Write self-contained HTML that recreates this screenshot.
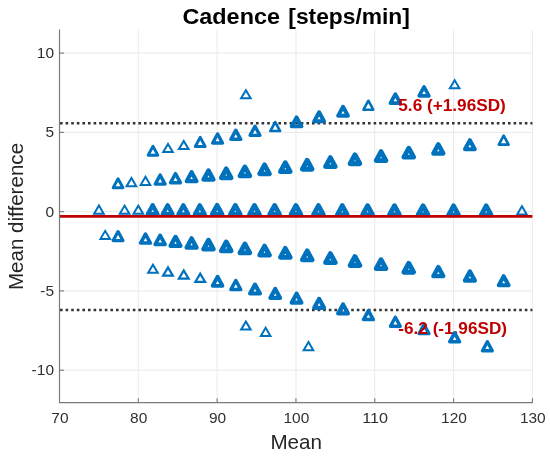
<!DOCTYPE html><html><head><meta charset="utf-8"><title>Cadence</title><style>html,body{margin:0;padding:0;background:#fff}svg{display:block}text{font-family:"Liberation Sans",sans-serif}</style></head><body>
<svg width="550" height="456" viewBox="0 0 550 456">
<rect width="550" height="456" fill="#fff"/>
<line x1="138.32" x2="138.32" y1="29.60" y2="402.70" stroke="#e6e6e6" stroke-width="0.9"/>
<line x1="217.13" x2="217.13" y1="29.60" y2="402.70" stroke="#e6e6e6" stroke-width="0.9"/>
<line x1="295.95" x2="295.95" y1="29.60" y2="402.70" stroke="#e6e6e6" stroke-width="0.9"/>
<line x1="374.77" x2="374.77" y1="29.60" y2="402.70" stroke="#e6e6e6" stroke-width="0.9"/>
<line x1="453.58" x2="453.58" y1="29.60" y2="402.70" stroke="#e6e6e6" stroke-width="0.9"/>
<line x1="532.40" x2="532.40" y1="29.60" y2="402.70" stroke="#e6e6e6" stroke-width="0.9"/>
<line x1="59.50" x2="532.40" y1="370.20" y2="370.20" stroke="#e6e6e6" stroke-width="0.9"/>
<line x1="59.50" x2="532.40" y1="290.92" y2="290.92" stroke="#e6e6e6" stroke-width="0.9"/>
<line x1="59.50" x2="532.40" y1="211.65" y2="211.65" stroke="#e6e6e6" stroke-width="0.9"/>
<line x1="59.50" x2="532.40" y1="132.38" y2="132.38" stroke="#e6e6e6" stroke-width="0.9"/>
<line x1="59.50" x2="532.40" y1="53.10" y2="53.10" stroke="#e6e6e6" stroke-width="0.9"/>
<line x1="60.00" x2="532.40" y1="123.26" y2="123.26" stroke="#333333" stroke-width="2.6" stroke-dasharray="2.6 3.0"/>
<line x1="60.00" x2="532.40" y1="309.95" y2="309.95" stroke="#333333" stroke-width="2.6" stroke-dasharray="2.6 3.0"/>
<path d="M517.14 214.43L521.94 206.33L526.74 214.43Z" fill="none" stroke="#0072BD" stroke-width="2.00" stroke-linejoin="miter"/>
<path d="M481.30 214.87L486.20 205.87L491.10 214.87Z" fill="none" stroke="#0072BD" stroke-width="4.79" stroke-linejoin="round"/>
<path d="M448.68 214.81L453.58 205.81L458.48 214.81Z" fill="none" stroke="#0072BD" stroke-width="4.79" stroke-linejoin="round"/>
<path d="M418.17 214.75L423.07 205.75L427.97 214.75Z" fill="none" stroke="#0072BD" stroke-width="4.79" stroke-linejoin="round"/>
<path d="M389.57 214.70L394.47 205.70L399.37 214.70Z" fill="none" stroke="#0072BD" stroke-width="4.79" stroke-linejoin="round"/>
<path d="M362.70 214.65L367.60 205.65L372.50 214.65Z" fill="none" stroke="#0072BD" stroke-width="4.79" stroke-linejoin="round"/>
<path d="M337.41 214.60L342.31 205.60L347.21 214.60Z" fill="none" stroke="#0072BD" stroke-width="4.79" stroke-linejoin="round"/>
<path d="M313.57 214.56L318.47 205.56L323.37 214.56Z" fill="none" stroke="#0072BD" stroke-width="4.79" stroke-linejoin="round"/>
<path d="M291.05 214.51L295.95 205.51L300.85 214.51Z" fill="none" stroke="#0072BD" stroke-width="4.79" stroke-linejoin="round"/>
<path d="M269.75 214.47L274.65 205.47L279.55 214.47Z" fill="none" stroke="#0072BD" stroke-width="4.79" stroke-linejoin="round"/>
<path d="M249.57 214.44L254.47 205.44L259.37 214.44Z" fill="none" stroke="#0072BD" stroke-width="4.79" stroke-linejoin="round"/>
<path d="M230.42 214.40L235.32 205.40L240.22 214.40Z" fill="none" stroke="#0072BD" stroke-width="4.79" stroke-linejoin="round"/>
<path d="M212.23 214.37L217.13 205.37L222.03 214.37Z" fill="none" stroke="#0072BD" stroke-width="4.79" stroke-linejoin="round"/>
<path d="M194.93 214.34L199.83 205.34L204.73 214.34Z" fill="none" stroke="#0072BD" stroke-width="4.33" stroke-linejoin="round"/>
<path d="M178.45 214.31L183.35 205.31L188.25 214.31Z" fill="none" stroke="#0072BD" stroke-width="4.33" stroke-linejoin="round"/>
<path d="M162.74 214.28L167.64 205.28L172.54 214.28Z" fill="none" stroke="#0072BD" stroke-width="4.33" stroke-linejoin="round"/>
<path d="M147.75 214.25L152.65 205.25L157.55 214.25Z" fill="none" stroke="#0072BD" stroke-width="4.33" stroke-linejoin="round"/>
<path d="M133.52 213.72L138.32 205.62L143.12 213.72Z" fill="none" stroke="#0072BD" stroke-width="2.00" stroke-linejoin="miter"/>
<path d="M119.81 213.70L124.61 205.60L129.41 213.70Z" fill="none" stroke="#0072BD" stroke-width="2.00" stroke-linejoin="miter"/>
<path d="M94.11 213.65L98.91 205.55L103.71 213.65Z" fill="none" stroke="#0072BD" stroke-width="2.00" stroke-linejoin="miter"/>
<path d="M498.77 144.61L503.67 135.61L508.57 144.61Z" fill="none" stroke="#0072BD" stroke-width="2.65" stroke-linejoin="round"/>
<path d="M464.99 149.23L469.89 140.23L474.79 149.23Z" fill="none" stroke="#0072BD" stroke-width="4.05" stroke-linejoin="round"/>
<path d="M433.43 153.41L438.33 144.41L443.23 153.41Z" fill="none" stroke="#0072BD" stroke-width="4.51" stroke-linejoin="round"/>
<path d="M403.87 157.19L408.77 148.19L413.67 157.19Z" fill="none" stroke="#0072BD" stroke-width="4.79" stroke-linejoin="round"/>
<path d="M376.14 160.62L381.04 151.62L385.94 160.62Z" fill="none" stroke="#0072BD" stroke-width="4.79" stroke-linejoin="round"/>
<path d="M350.06 163.75L354.96 154.75L359.86 163.75Z" fill="none" stroke="#0072BD" stroke-width="4.79" stroke-linejoin="round"/>
<path d="M325.49 166.61L330.39 157.61L335.29 166.61Z" fill="none" stroke="#0072BD" stroke-width="4.79" stroke-linejoin="round"/>
<path d="M302.31 169.24L307.21 160.24L312.11 169.24Z" fill="none" stroke="#0072BD" stroke-width="4.79" stroke-linejoin="round"/>
<path d="M280.40 171.64L285.30 162.64L290.20 171.64Z" fill="none" stroke="#0072BD" stroke-width="4.79" stroke-linejoin="round"/>
<path d="M259.66 173.86L264.56 164.86L269.46 173.86Z" fill="none" stroke="#0072BD" stroke-width="4.79" stroke-linejoin="round"/>
<path d="M239.99 175.91L244.89 166.91L249.79 175.91Z" fill="none" stroke="#0072BD" stroke-width="4.79" stroke-linejoin="round"/>
<path d="M221.33 177.80L226.23 168.80L231.13 177.80Z" fill="none" stroke="#0072BD" stroke-width="4.79" stroke-linejoin="round"/>
<path d="M203.58 179.55L208.48 170.55L213.38 179.55Z" fill="none" stroke="#0072BD" stroke-width="4.51" stroke-linejoin="round"/>
<path d="M186.69 181.17L191.59 172.17L196.49 181.17Z" fill="none" stroke="#0072BD" stroke-width="4.14" stroke-linejoin="round"/>
<path d="M170.60 182.69L175.50 173.69L180.40 182.69Z" fill="none" stroke="#0072BD" stroke-width="3.49" stroke-linejoin="round"/>
<path d="M155.25 184.09L160.15 175.09L165.05 184.09Z" fill="none" stroke="#0072BD" stroke-width="3.40" stroke-linejoin="round"/>
<path d="M140.68 184.91L145.48 176.81L150.28 184.91Z" fill="none" stroke="#0072BD" stroke-width="2.00" stroke-linejoin="miter"/>
<path d="M126.66 186.13L131.46 178.03L136.26 186.13Z" fill="none" stroke="#0072BD" stroke-width="2.00" stroke-linejoin="miter"/>
<path d="M113.15 187.78L118.05 178.78L122.95 187.78Z" fill="none" stroke="#0072BD" stroke-width="2.93" stroke-linejoin="round"/>
<path d="M498.77 285.19L503.67 276.19L508.57 285.19Z" fill="none" stroke="#0072BD" stroke-width="4.05" stroke-linejoin="round"/>
<path d="M464.99 280.45L469.89 271.45L474.79 280.45Z" fill="none" stroke="#0072BD" stroke-width="4.42" stroke-linejoin="round"/>
<path d="M433.43 276.15L438.33 267.15L443.23 276.15Z" fill="none" stroke="#0072BD" stroke-width="4.42" stroke-linejoin="round"/>
<path d="M403.87 272.26L408.77 263.26L413.67 272.26Z" fill="none" stroke="#0072BD" stroke-width="4.79" stroke-linejoin="round"/>
<path d="M376.14 268.72L381.04 259.72L385.94 268.72Z" fill="none" stroke="#0072BD" stroke-width="4.79" stroke-linejoin="round"/>
<path d="M350.06 265.50L354.96 256.50L359.86 265.50Z" fill="none" stroke="#0072BD" stroke-width="4.79" stroke-linejoin="round"/>
<path d="M325.49 262.54L330.39 253.54L335.29 262.54Z" fill="none" stroke="#0072BD" stroke-width="4.79" stroke-linejoin="round"/>
<path d="M302.31 259.84L307.21 250.84L312.11 259.84Z" fill="none" stroke="#0072BD" stroke-width="4.79" stroke-linejoin="round"/>
<path d="M280.40 257.35L285.30 248.35L290.20 257.35Z" fill="none" stroke="#0072BD" stroke-width="4.79" stroke-linejoin="round"/>
<path d="M259.66 255.05L264.56 246.05L269.46 255.05Z" fill="none" stroke="#0072BD" stroke-width="4.79" stroke-linejoin="round"/>
<path d="M239.99 252.93L244.89 243.93L249.79 252.93Z" fill="none" stroke="#0072BD" stroke-width="4.79" stroke-linejoin="round"/>
<path d="M221.33 250.97L226.23 241.97L231.13 250.97Z" fill="none" stroke="#0072BD" stroke-width="4.79" stroke-linejoin="round"/>
<path d="M203.58 249.16L208.48 240.16L213.38 249.16Z" fill="none" stroke="#0072BD" stroke-width="4.79" stroke-linejoin="round"/>
<path d="M186.69 247.47L191.59 238.47L196.49 247.47Z" fill="none" stroke="#0072BD" stroke-width="4.51" stroke-linejoin="round"/>
<path d="M170.60 245.90L175.50 236.90L180.40 245.90Z" fill="none" stroke="#0072BD" stroke-width="4.33" stroke-linejoin="round"/>
<path d="M155.25 244.43L160.15 235.43L165.05 244.43Z" fill="none" stroke="#0072BD" stroke-width="3.77" stroke-linejoin="round"/>
<path d="M140.58 243.06L145.48 234.06L150.38 243.06Z" fill="none" stroke="#0072BD" stroke-width="3.58" stroke-linejoin="round"/>
<path d="M113.15 240.58L118.05 231.58L122.95 240.58Z" fill="none" stroke="#0072BD" stroke-width="3.21" stroke-linejoin="round"/>
<path d="M100.40 238.96L105.20 230.86L110.00 238.96Z" fill="none" stroke="#0072BD" stroke-width="2.00" stroke-linejoin="miter"/>
<path d="M449.84 88.33L454.64 80.23L459.44 88.33Z" fill="none" stroke="#0072BD" stroke-width="2.00" stroke-linejoin="miter"/>
<path d="M419.13 95.84L424.03 86.84L428.93 95.84Z" fill="none" stroke="#0072BD" stroke-width="3.58" stroke-linejoin="round"/>
<path d="M390.44 103.11L395.34 94.11L400.24 103.11Z" fill="none" stroke="#0072BD" stroke-width="3.77" stroke-linejoin="round"/>
<path d="M363.49 109.73L368.39 100.73L373.29 109.73Z" fill="none" stroke="#0072BD" stroke-width="2.56" stroke-linejoin="round"/>
<path d="M338.14 115.77L343.04 106.77L347.94 115.77Z" fill="none" stroke="#0072BD" stroke-width="3.86" stroke-linejoin="round"/>
<path d="M314.23 121.29L319.13 112.29L324.03 121.29Z" fill="none" stroke="#0072BD" stroke-width="3.95" stroke-linejoin="round"/>
<path d="M291.66 126.36L296.56 117.36L301.46 126.36Z" fill="none" stroke="#0072BD" stroke-width="3.95" stroke-linejoin="round"/>
<path d="M270.31 131.03L275.21 122.03L280.11 131.03Z" fill="none" stroke="#0072BD" stroke-width="2.65" stroke-linejoin="round"/>
<path d="M250.08 135.33L254.98 126.33L259.88 135.33Z" fill="none" stroke="#0072BD" stroke-width="3.40" stroke-linejoin="round"/>
<path d="M230.90 139.30L235.80 130.30L240.70 139.30Z" fill="none" stroke="#0072BD" stroke-width="3.58" stroke-linejoin="round"/>
<path d="M212.68 142.98L217.58 133.98L222.48 142.98Z" fill="none" stroke="#0072BD" stroke-width="3.40" stroke-linejoin="round"/>
<path d="M195.34 146.39L200.24 137.39L205.14 146.39Z" fill="none" stroke="#0072BD" stroke-width="3.02" stroke-linejoin="round"/>
<path d="M178.94 149.05L183.74 140.95L188.54 149.05Z" fill="none" stroke="#0072BD" stroke-width="2.09" stroke-linejoin="miter"/>
<path d="M163.20 152.00L168.00 143.90L172.80 152.00Z" fill="none" stroke="#0072BD" stroke-width="2.00" stroke-linejoin="miter"/>
<path d="M148.08 155.25L152.98 146.25L157.88 155.25Z" fill="none" stroke="#0072BD" stroke-width="2.84" stroke-linejoin="round"/>
<path d="M482.46 350.77L487.36 341.77L492.26 350.77Z" fill="none" stroke="#0072BD" stroke-width="3.40" stroke-linejoin="round"/>
<path d="M419.13 333.67L424.03 324.67L428.93 333.67Z" fill="none" stroke="#0072BD" stroke-width="3.40" stroke-linejoin="round"/>
<path d="M390.44 326.29L395.34 317.29L400.24 326.29Z" fill="none" stroke="#0072BD" stroke-width="3.40" stroke-linejoin="round"/>
<path d="M363.49 319.57L368.39 310.57L373.29 319.57Z" fill="none" stroke="#0072BD" stroke-width="3.58" stroke-linejoin="round"/>
<path d="M338.14 313.44L343.04 304.44L347.94 313.44Z" fill="none" stroke="#0072BD" stroke-width="4.14" stroke-linejoin="round"/>
<path d="M314.23 307.82L319.13 298.82L324.03 307.82Z" fill="none" stroke="#0072BD" stroke-width="4.14" stroke-linejoin="round"/>
<path d="M291.66 302.67L296.56 293.67L301.46 302.67Z" fill="none" stroke="#0072BD" stroke-width="4.14" stroke-linejoin="round"/>
<path d="M270.31 297.92L275.21 288.92L280.11 297.92Z" fill="none" stroke="#0072BD" stroke-width="4.14" stroke-linejoin="round"/>
<path d="M250.08 293.55L254.98 284.55L259.88 293.55Z" fill="none" stroke="#0072BD" stroke-width="4.14" stroke-linejoin="round"/>
<path d="M230.90 289.51L235.80 280.51L240.70 289.51Z" fill="none" stroke="#0072BD" stroke-width="3.58" stroke-linejoin="round"/>
<path d="M212.68 285.76L217.58 276.76L222.48 285.76Z" fill="none" stroke="#0072BD" stroke-width="3.77" stroke-linejoin="round"/>
<path d="M195.44 281.79L200.24 273.69L205.04 281.79Z" fill="none" stroke="#0072BD" stroke-width="2.28" stroke-linejoin="miter"/>
<path d="M178.94 278.56L183.74 270.46L188.54 278.56Z" fill="none" stroke="#0072BD" stroke-width="2.28" stroke-linejoin="miter"/>
<path d="M163.20 275.55L168.00 267.45L172.80 275.55Z" fill="none" stroke="#0072BD" stroke-width="2.28" stroke-linejoin="miter"/>
<path d="M148.18 272.74L152.98 264.64L157.78 272.74Z" fill="none" stroke="#0072BD" stroke-width="2.00" stroke-linejoin="miter"/>
<path d="M241.09 98.22L245.89 90.12L250.69 98.22Z" fill="none" stroke="#0072BD" stroke-width="2.00" stroke-linejoin="miter"/>
<path d="M241.09 329.62L245.89 321.52L250.69 329.62Z" fill="none" stroke="#0072BD" stroke-width="2.00" stroke-linejoin="miter"/>
<path d="M260.84 335.92L265.64 327.82L270.44 335.92Z" fill="none" stroke="#0072BD" stroke-width="2.00" stroke-linejoin="miter"/>
<path d="M303.68 350.15L308.48 342.05L313.28 350.15Z" fill="none" stroke="#0072BD" stroke-width="2.00" stroke-linejoin="miter"/>
<line x1="59.50" x2="532.40" y1="216.35" y2="216.35" stroke="#C00000" stroke-width="2.8"/>
<path d="M59.50 29.60V402.70H532.90" fill="none" stroke="#7a7a7a" stroke-width="1.2"/>
<line x1="138.32" x2="138.32" y1="402.70" y2="398.20" stroke="#7a7a7a" stroke-width="1.1"/>
<line x1="217.13" x2="217.13" y1="402.70" y2="398.20" stroke="#7a7a7a" stroke-width="1.1"/>
<line x1="295.95" x2="295.95" y1="402.70" y2="398.20" stroke="#7a7a7a" stroke-width="1.1"/>
<line x1="374.77" x2="374.77" y1="402.70" y2="398.20" stroke="#7a7a7a" stroke-width="1.1"/>
<line x1="453.58" x2="453.58" y1="402.70" y2="398.20" stroke="#7a7a7a" stroke-width="1.1"/>
<line x1="532.40" x2="532.40" y1="402.70" y2="398.20" stroke="#7a7a7a" stroke-width="1.1"/>
<line x1="59.50" x2="64.00" y1="370.20" y2="370.20" stroke="#7a7a7a" stroke-width="1.1"/>
<line x1="59.50" x2="64.00" y1="290.92" y2="290.92" stroke="#7a7a7a" stroke-width="1.1"/>
<line x1="59.50" x2="64.00" y1="211.65" y2="211.65" stroke="#7a7a7a" stroke-width="1.1"/>
<line x1="59.50" x2="64.00" y1="132.38" y2="132.38" stroke="#7a7a7a" stroke-width="1.1"/>
<line x1="59.50" x2="64.00" y1="53.10" y2="53.10" stroke="#7a7a7a" stroke-width="1.1"/>
<text x="59.90" y="423.3" font-size="14.6" fill="#303030" text-anchor="middle" textLength="17.21" lengthAdjust="spacingAndGlyphs">70</text>
<text x="138.72" y="423.3" font-size="14.6" fill="#303030" text-anchor="middle" textLength="17.21" lengthAdjust="spacingAndGlyphs">80</text>
<text x="217.53" y="423.3" font-size="14.6" fill="#303030" text-anchor="middle" textLength="17.21" lengthAdjust="spacingAndGlyphs">90</text>
<text x="296.35" y="423.3" font-size="14.6" fill="#303030" text-anchor="middle" textLength="25.81" lengthAdjust="spacingAndGlyphs">100</text>
<text x="375.17" y="423.3" font-size="14.6" fill="#303030" text-anchor="middle" textLength="25.81" lengthAdjust="spacingAndGlyphs">110</text>
<text x="453.98" y="423.3" font-size="14.6" fill="#303030" text-anchor="middle" textLength="25.81" lengthAdjust="spacingAndGlyphs">120</text>
<text x="532.80" y="423.3" font-size="14.6" fill="#303030" text-anchor="middle" textLength="25.81" lengthAdjust="spacingAndGlyphs">130</text>
<text x="54.0" y="375.20" font-size="14.6" fill="#303030" text-anchor="end" textLength="22.36" lengthAdjust="spacingAndGlyphs">-10</text>
<text x="54.0" y="295.92" font-size="14.6" fill="#303030" text-anchor="end" textLength="13.76" lengthAdjust="spacingAndGlyphs">-5</text>
<text x="54.0" y="216.65" font-size="14.6" fill="#303030" text-anchor="end" textLength="8.60" lengthAdjust="spacingAndGlyphs">0</text>
<text x="54.0" y="137.38" font-size="14.6" fill="#303030" text-anchor="end" textLength="8.60" lengthAdjust="spacingAndGlyphs">5</text>
<text x="54.0" y="58.10" font-size="14.6" fill="#303030" text-anchor="end" textLength="17.21" lengthAdjust="spacingAndGlyphs">10</text>
<text x="296.2" y="448.9" font-size="19.8" fill="#262626" text-anchor="middle" textLength="51.6" lengthAdjust="spacingAndGlyphs">Mean</text>
<text transform="translate(23.2 216.5) rotate(-90)" font-size="20" fill="#262626" text-anchor="middle" textLength="147.2" lengthAdjust="spacingAndGlyphs">Mean difference</text>
<text y="23.7" font-size="22.2" font-weight="bold" fill="#000"><tspan x="182.4" textLength="97.6" lengthAdjust="spacingAndGlyphs">Cadence</tspan> <tspan x="288.3" textLength="121.6" lengthAdjust="spacingAndGlyphs">[steps/min]</tspan></text>
<text x="398.3" y="110.6" font-size="15.6" font-weight="bold" fill="#C00000" textLength="107.5" lengthAdjust="spacingAndGlyphs">5.6 (+1.96SD)</text>
<text x="398.3" y="334.4" font-size="15.6" font-weight="bold" fill="#C00000" textLength="108.7" lengthAdjust="spacingAndGlyphs">-6.2 (-1.96SD)</text>
<path d="M449.74 341.79L454.64 332.79L459.54 341.79Z" fill="none" stroke="#0072BD" stroke-width="3.58" stroke-linejoin="round"/>
</svg></body></html>
